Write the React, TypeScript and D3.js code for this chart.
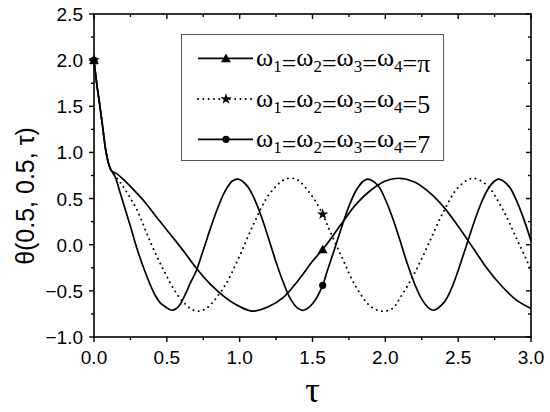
import React, { useEffect, useRef } from "react";
import * as d3 from "d3";

// shared steep start of all three curves
const initTau = [0, 0.02, 0.04, 0.06, 0.08, 0.1, 0.12];
const initTheta = [2.0, 1.73, 1.51, 1.27, 1.03, 0.88, 0.8];

const tauPi = [
  0.156, 0.2, 0.281, 0.35, 0.419, 0.5, 0.556, 0.625, 0.7, 0.8, 0.9, 1.0, 1.09,
  1.2, 1.3, 1.4, 1.5, 1.57, 1.6, 1.7, 1.8, 1.9, 2.0, 2.09, 2.2, 2.3, 2.4, 2.5,
  2.6, 2.7, 2.8, 2.9, 3.0,
];
const thetaPi = [
  0.77, 0.71, 0.58, 0.46, 0.32, 0.16, 0.05, -0.09, -0.25, -0.43, -0.57, -0.67,
  -0.72, -0.67, -0.57, -0.39, -0.18, -0.05, 0.01, 0.23, 0.44, 0.59, 0.69, 0.72,
  0.68, 0.57, 0.41, 0.2, -0.03, -0.26, -0.45, -0.6, -0.69,
];

const tau5 = [
  0.178, 0.236, 0.3, 0.384, 0.476, 0.567, 0.625, 0.67, 0.716, 0.76, 0.8, 0.9,
  1.0, 1.1, 1.2, 1.3, 1.35, 1.4, 1.5, 1.57, 1.6, 1.7, 1.8, 1.9, 1.98, 2.05,
  2.1, 2.2, 2.3, 2.4, 2.5, 2.6, 2.7, 2.8, 2.9, 3.0,
];
const theta5 = [
  0.68, 0.54, 0.36, 0.04, -0.27, -0.53, -0.64, -0.7, -0.72, -0.7, -0.65, -0.44,
  -0.12, 0.24, 0.54, 0.7, 0.72, 0.7, 0.52, 0.33, 0.22, -0.13, -0.46, -0.67,
  -0.72, -0.69, -0.58, -0.31, 0.02, 0.36, 0.62, 0.72, 0.64, 0.4, 0.07, -0.27,
];

const tau7 = [
  0.144, 0.18, 0.213, 0.25, 0.281, 0.32, 0.35, 0.385, 0.419, 0.455, 0.487,
  0.533, 0.58, 0.62, 0.66, 0.7, 0.75, 0.8, 0.85, 0.9, 0.95, 0.99, 1.05, 1.1,
  1.15, 1.2, 1.25, 1.3, 1.35, 1.4, 1.44, 1.5, 1.57, 1.6, 1.65, 1.7, 1.75, 1.8,
  1.85, 1.88, 1.95, 2.0, 2.05, 2.1, 2.15, 2.2, 2.25, 2.3, 2.33, 2.4, 2.45, 2.5,
  2.55, 2.6, 2.65, 2.7, 2.75, 2.78, 2.85, 2.9, 2.95, 3.0,
];
const theta7 = [
  0.74, 0.56, 0.39, 0.2, 0.03, -0.16, -0.29, -0.43, -0.545, -0.63, -0.67,
  -0.71, -0.67, -0.56, -0.42, -0.29, -0.06, 0.18, 0.4, 0.58, 0.69, 0.71, 0.64,
  0.5, 0.3, 0.06, -0.19, -0.41, -0.59, -0.69, -0.71, -0.64, -0.44, -0.29,
  -0.055, 0.19, 0.415, 0.59, 0.69, 0.71, 0.64, 0.49, 0.29, 0.05, -0.2, -0.42,
  -0.59, -0.69, -0.71, -0.63, -0.49, -0.28, -0.04, 0.2, 0.42, 0.59, 0.69, 0.71,
  0.63, 0.48, 0.28, 0.04,
];

const markerTau = [0, 1.57];
const xTicks = [0, 0.5, 1.0, 1.5, 2.0, 2.5, 3.0];
const yTicks = [-1.0, -0.5, 0.0, 0.5, 1.0, 1.5, 2.0, 2.5];

const series = [
  { value: "π", tau: tauPi, theta: thetaPi, dotted: false, marker: "triangle" },
  { value: "5", tau: tau5, theta: theta5, dotted: true, marker: "star" },
  { value: "7", tau: tau7, theta: theta7, dotted: false, marker: "circle" },
];

const W = 550;
const H = 412;
const margin = { left: 94, right: 19, top: 14, bottom: 75 };

export default function App() {
  const svgRef = useRef<SVGSVGElement>(null);

  useEffect(() => {
    if (!svgRef.current) return;
    const svg = d3.select(svgRef.current);
    svg.selectAll("*").remove();

    const innerWidth = W - margin.left - margin.right;
    const innerHeight = H - margin.top - margin.bottom;
    const x = d3.scaleLinear().domain([0, 3]).range([0, innerWidth]);
    const y = d3.scaleLinear().domain([-1, 2.5]).range([innerHeight, 0]);

    const g = svg
      .append("g")
      .attr("transform", `translate(${margin.left},${margin.top})`);

    const sans = "'Liberation Sans', Arial, sans-serif";
    const serif = "'Liberation Serif', 'Times New Roman', serif";

    // curves
    const line = d3
      .line<[number, number]>()
      .x((d) => x(d[0]))
      .y((d) => y(d[1]))
      .curve(d3.curveCatmullRom.alpha(0.5));

    series.forEach((s) => {
      const pts: [number, number][] = [
        ...initTau.map((t, i) => [t, initTheta[i]] as [number, number]),
        ...s.tau.map((t, i) => [t, s.theta[i]] as [number, number]),
      ];
      g.append("path")
        .datum(pts)
        .attr("fill", "none")
        .attr("stroke", "#000")
        .attr("stroke-width", s.dotted ? 1.9 : 1.7)
        .attr("stroke-linecap", s.dotted ? "round" : "butt")
        .attr("stroke-dasharray", s.dotted ? "0.1,5.2" : null)
        .attr("d", line);
    });

    const star = d3.symbol().type(d3.symbolStar).size(40);
    const tri = d3.symbol().type(d3.symbolTriangle).size(42);

    const drawMarker = (sel: any, kind: string, cx: number, cy: number) => {
      if (kind === "circle") {
        sel.append("circle").attr("cx", cx).attr("cy", cy).attr("r", 3.6).attr("fill", "#000");
      } else {
        sel
          .append("path")
          .attr("d", (kind === "star" ? star : tri)() as string)
          .attr("transform", `translate(${cx},${cy + (kind === "triangle" ? 1 : 0)})`)
          .attr("fill", "#000");
      }
    };

    series.forEach((s) => {
      const allTau = [...initTau, ...s.tau];
      const allTheta = [...initTheta, ...s.theta];
      markerTau.forEach((mt) => {
        const idx = allTau.findIndex((t) => Math.abs(t - mt) < 1e-6);
        if (idx < 0) return;
        drawMarker(g, s.marker, x(mt), y(allTheta[idx]));
      });
    });

    // axes frame
    g.append("rect")
      .attr("x", 0)
      .attr("y", 0)
      .attr("width", innerWidth)
      .attr("height", innerHeight)
      .attr("fill", "none")
      .attr("stroke", "#000")
      .attr("stroke-width", 1.6);

    const xMinor = d3.range(0.25, 3, 0.5);
    const yMinor = d3.range(-0.75, 2.5, 0.5);
    const major = 5;
    const minor = 3;
    const tickAttr = (s: any) => s.attr("stroke", "#000").attr("stroke-width", 1.4);

    // bottom (outward) and top (inward)
    [...xTicks.map((v) => [v, major]), ...xMinor.map((v) => [v, minor])].forEach(
      ([v, len]) => {
        tickAttr(
          g.append("line").attr("x1", x(v)).attr("x2", x(v)).attr("y1", innerHeight).attr("y2", innerHeight + len)
        );
        tickAttr(g.append("line").attr("x1", x(v)).attr("x2", x(v)).attr("y1", 0).attr("y2", len));
      }
    );
    // left (outward) and right (inward)
    [...yTicks.map((v) => [v, major]), ...yMinor.map((v) => [v, minor])].forEach(
      ([v, len]) => {
        tickAttr(g.append("line").attr("x1", -len).attr("x2", 0).attr("y1", y(v)).attr("y2", y(v)));
        tickAttr(
          g.append("line").attr("x1", innerWidth - len).attr("x2", innerWidth).attr("y1", y(v)).attr("y2", y(v))
        );
      }
    );

    const fmt = d3.format(".1f");
    const minusFmt = (v: number) => fmt(v).replace("-", "\u2013");

    g.selectAll(".xl")
      .data(xTicks)
      .enter()
      .append("text")
      .attr("x", (d) => x(d))
      .attr("y", innerHeight + 27)
      .attr("text-anchor", "middle")
      .style("font-family", sans)
      .style("font-size", "19px")
      .text((d) => minusFmt(d));

    g.selectAll(".yl")
      .data(yTicks)
      .enter()
      .append("text")
      .attr("x", -11)
      .attr("y", (d) => y(d) + 7)
      .attr("text-anchor", "end")
      .style("font-family", sans)
      .style("font-size", "19px")
      .text((d) => minusFmt(d));

    // axis titles
    svg
      .append("text")
      .attr("transform", `translate(34,196) rotate(-90)`)
      .attr("text-anchor", "middle")
      .style("font-family", sans)
      .style("font-size", "25px")
      .text("θ(0.5, 0.5, τ)");

    svg
      .append("text")
      .attr("x", margin.left + innerWidth / 2)
      .attr("y", 402)
      .attr("text-anchor", "middle")
      .style("font-family", serif)
      .style("font-size", "36px")
      .text("τ");

    // legend
    const lg = svg.append("g");
    lg.append("rect")
      .attr("x", 181.5)
      .attr("y", 34.5)
      .attr("width", 262)
      .attr("height", 126)
      .attr("fill", "#fff")
      .attr("stroke", "#555")
      .attr("stroke-width", 1);

    const rowY = [58.3, 99, 139.3];
    series.forEach((s, i) => {
      const ry = rowY[i];
      const row = lg.append("g") as any;
      row
        .append("line")
        .attr("x1", 198)
        .attr("x2", 253)
        .attr("y1", ry)
        .attr("y2", ry)
        .attr("stroke", "#000")
        .attr("stroke-width", s.dotted ? 1.9 : 1.7)
        .attr("stroke-linecap", s.dotted ? "round" : "butt")
        .attr("stroke-dasharray", s.dotted ? "0.1,5.2" : null);
      drawMarker(row, s.marker, 226, ry);

      const t = row
        .append("text")
        .attr("x", 256)
        .attr("y", ry + 8)
        .style("font-family", serif)
        .style("font-size", "26px");
      [1, 2, 3, 4].forEach((k) => {
        t.append("tspan").attr("dy", k === 1 ? 0 : -6).text("ω");
        t.append("tspan").attr("dy", 6).style("font-size", "17px").text(String(k));
        t.append("tspan").text("=");
      });
      t.append("tspan").text(s.value);
    });
  }, []);

  return (
    <svg
      ref={svgRef}
      width={W}
      height={H}
      style={{ position: "absolute", left: 0, top: 0, background: "#fff" }}
    />
  );
}
